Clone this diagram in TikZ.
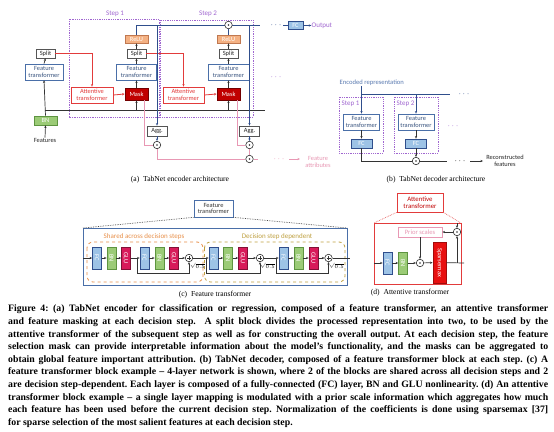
\documentclass[tikz,border=0pt]{standalone}
\usepackage{fontspec}
\setmainfont{Liberation Serif}
\newfontfamily\dfont{Carlito}
\usetikzlibrary{arrows.meta,calc}
\definecolor{stepc}{HTML}{A066D0}
\definecolor{bluec}{HTML}{4A6FA8}
\definecolor{dblue}{HTML}{2F4E8C}
\definecolor{redc}{HTML}{E23B3B}
\definecolor{maskc}{HTML}{C00000}
\definecolor{pinkc}{HTML}{E898B4}
\definecolor{reluf}{HTML}{F4B183}
\definecolor{reluline}{HTML}{C07850}
\definecolor{bnf}{HTML}{9BCB76}
\definecolor{bnb}{HTML}{5E9440}
\definecolor{fcf}{HTML}{9DC3E6}
\definecolor{gluf}{HTML}{D81B5A}
\definecolor{orc}{HTML}{E8904A}
\definecolor{olc}{HTML}{BFA040}
\definecolor{spc}{HTML}{E81010}
\definecolor{grayb}{HTML}{555555}
\definecolor{encc}{HTML}{5A7AB0}
\frenchspacing
\tikzset{
 bx/.style={draw, inner sep=0pt, align=center, line width=0.7pt, font=\dfont\fontsize{6.4}{6.9}\selectfont},
 ftbox/.style={bx, draw=bluec, text=bluec!75!black, fill=white},
 spbox/.style={bx, draw=grayb, text=black!85, fill=white, minimum width=19, minimum height=9},
 atbox/.style={bx, draw=redc, text=redc, fill=white},
 maskbox/.style={bx, draw=maskc!60!black, fill=maskc, text=white, minimum width=23, minimum height=12},
 relubox/.style={bx, draw=reluline, fill=reluf, text=white, minimum width=23, minimum height=8},
 bnbox/.style={bx, draw=bnb, fill=bnf, text=white},
 fcbox/.style={bx, draw=dblue, fill=fcf, text=white},
 glubox/.style={bx, draw=gluf!60!black, fill=gluf, text=white},
 vblk/.style={rotate=-90, minimum width=22, minimum height=9},
 sumdot/.style={circle, draw=black!80, fill=white, minimum size=7.5pt, inner sep=0pt, line width=0.6pt,
   path picture={\fill[black!80] (path picture bounding box.center) circle (0.8pt);}},
 sumplus/.style={circle, draw=black!80, fill=white, minimum size=7.5pt, inner sep=0pt, line width=0.6pt,
   path picture={\draw[black!80, line width=0.5pt] ([xshift=-2pt]path picture bounding box.center) -- ([xshift=2pt]path picture bounding box.center) ([yshift=-2pt]path picture bounding box.center) -- ([yshift=2pt]path picture bounding box.center);}},
 stepbox/.style={draw=stepc, dash pattern=on 0.9pt off 0.9pt, line width=0.9pt},
 steplbl/.style={text=stepc, font=\dfont\fontsize{7}{7.5}\selectfont, inner sep=0pt},
 lbl/.style={inner sep=0pt, align=center, font=\dfont\fontsize{6.4}{7}\selectfont},
 arr/.style={-{Stealth[length=2.6pt,width=2.2pt]}},
 bl/.style={draw=black!80, line width=0.7pt},
 bluel/.style={draw=dblue, line width=0.8pt},
 redl/.style={draw=redc, line width=0.8pt},
 pinkl/.style={draw=pinkc, line width=0.8pt},
 subcap/.style={inner sep=0pt, font=\fontsize{7.6}{8}\selectfont},
 captxt/.style={inner sep=0pt, anchor=west, font=\bfseries\fontsize{9.8}{11}\selectfont},
 dotsnode/.style={inner sep=0pt, font=\bfseries\fontsize{9}{9}\selectfont},
}
\begin{document}
\begin{tikzpicture}[x=1pt,y=-1pt]
\useasboundingbox[fill=white] (0,0) rectangle (554,431);

% ================= (a) encoder =================
\draw[stepbox] (69,19) rectangle (159,117);
\draw[stepbox] (160,20) rectangle (253,117);
\node[steplbl] (s1l) at (115,14) {Step 1};
\node[steplbl] (s2l) at (208,14) {Step 2};

\node[ftbox, minimum width=38, minimum height=16] (ftL) at (44,72) {Feature\\transformer};
\node[spbox] (spL) at (45.5,53.5) {Split};
\node[bnbox, minimum width=23, minimum height=9] (bnE) at (45.5,120.5) {BN};
\node[lbl, text=black!85] (featE) at (45,140) {Features};

\node[atbox, minimum width=42, minimum height=16] (at1) at (92,95) {Attentive\\transformer};
\node[maskbox] (mask1) at (136.5,94) {Mask};
\node[ftbox, minimum width=40, minimum height=16] (ft1) at (136.5,72) {Feature\\transformer};
\node[spbox] (sp1) at (136.5,53.5) {Split};
\node[relubox] (relu1) at (136.5,39) {ReLU};

\node[atbox, minimum width=41, minimum height=16] (at2) at (183.5,95) {Attentive\\transformer};
\node[maskbox] (mask2) at (228.5,94) {Mask};
\node[ftbox, minimum width=41, minimum height=16] (ft2) at (228.5,72) {Feature\\transformer};
\node[spbox] (sp2) at (228.5,53.5) {Split};
\node[relubox] (relu2) at (228.5,39) {ReLU};

\node[spbox, minimum width=20, minimum height=10] (agg1) at (157,131) {Agg.};
\node[spbox, minimum width=20, minimum height=10] (agg2) at (249.5,131) {Agg.};

\coordinate (bl0) at (45,110);
\coordinate (bl1) at (265,110);
\coordinate (tl0) at (157,25);
\coordinate (tl1) at (260,25);
\coordinate (tl2) at (249.5,25);

% black lines
\draw[bl] (bl0) -- (bl1);
\draw[bl,arr] (featE.north) -- (bnE.south);
\draw[bl,arr] (bnE.north) -- (ftL.south);
\draw[bl,arr] (ftL.north) -- (spL.south);
\draw[bl,arr] (mask1.south |- bl0) -- (mask1.south);
\draw[bl,arr] (mask1.north) -- (ft1.south);
\draw[bl,arr] (ft1.north) -- (sp1.south);
\draw[bl,arr] (sp1.north) -- (relu1.south);
\draw[bl,arr] (mask2.south |- bl0) -- (mask2.south);
\draw[bl,arr] (mask2.north) -- (ft2.south);
\draw[bl,arr] (ft2.north) -- (sp2.south);
\draw[bl,arr] (sp2.north) -- (relu2.south);

% red lines
\draw[redl,arr] (spL.east) -| (at1.north);
\draw[redl,arr] (sp1.east) -| (at2.north);
\draw[redl,arr] (at1.east) -- (mask1.west);
\draw[redl,arr] (at2.east) -- (mask2.west);

% blue lines
\draw[bluel] (relu1.north) |- (tl1);
\draw[bluel,arr] (tl0) -- (agg1.north);
\draw[bluel,arr] (tl2) -- (agg2.north);
\node[sumdot] (st) at (228.5,25) {};
\draw[bluel] (relu2.north) -- (st.south);
\node[dotsnode, text=dblue] (bdots) at (276,25) {$\cdots$};
\node[fcbox, minimum width=15, minimum height=8] (fcO) at (295.5,25.5) {FC};
\draw[bluel] (fcO.west) -- ++(-5,0);
\draw[bluel,arr] (fcO.east) -- ++(8,0);
\node[lbl, anchor=west, text=stepc, font=\dfont\fontsize{7}{7.5}\selectfont] (outT) at (311.5,25.5) {Output};
\node[dotsnode, text=stepc] (pdots1) at (276,77) {$\cdots$};

% sums & pink lines
\node[sumdot] (c1) at (157,145) {};
\node[sumdot] (c2) at (249.5,145) {};
\node[sumdot] (c3) at (249.5,159) {};
\draw[bluel,arr] (agg1.south) -- (c1.north);
\draw[bluel,arr] (agg2.south) -- (c2.north);
\draw[pinkl] ([xshift=-3.5pt]mask1.south east) |- (c1.west);
\draw[pinkl] ([xshift=-3pt]mask2.south east) |- (c2.west);
\draw[pinkl] (c1.south) |- (c3.west);
\draw[pinkl] (c2.south) -- (c3.north);
\coordinate (pe) at (258,159);
\draw[pinkl] (c3.east) -- (pe);
\node[dotsnode, text=pinkc] (pkdots) at (279,159) {$\cdots$};
\coordinate (pa0) at (289,159);
\coordinate (pa1) at (300,159);
\draw[pinkl,arr] (pa0) -- (pa1);
\node[lbl, text=pinkc] (featA) at (318,161.5) {Feature\\attributes};

\node[subcap] (capa) at (180,180) {(a)\ \ TabNet encoder architecture};

% ================= (b) decoder =================
\node[lbl, anchor=west, text=encc, font=\dfont\fontsize{6.6}{7}\selectfont] (encT) at (339.5,82.5) {Encoded representation};
\draw[stepbox] (339,97) rectangle (383,153);
\draw[stepbox] (394,97) rectangle (438,153);
\node[steplbl, anchor=west] (ds1) at (341.5,103.5) {Step 1};
\node[steplbl, anchor=west] (ds2) at (396.5,103.5) {Step 2};
\node[ftbox, minimum width=36, minimum height=16] (dft1) at (361.5,122) {Feature\\transformer};
\node[ftbox, minimum width=36, minimum height=16] (dft2) at (416,122) {Feature\\transformer};
\node[fcbox, minimum width=21, minimum height=9] (dfc1) at (361.5,143.5) {FC};
\node[fcbox, minimum width=21, minimum height=9] (dfc2) at (416,143.5) {FC};
\coordinate (e0) at (361.5,86);
\coordinate (e1) at (361.5,94);
\coordinate (e2) at (450,94);
\coordinate (e3) at (416,94);
\draw[bluel,arr] (e0) -- (dft1.north);
\draw[bluel] (e1) -- (e2);
\draw[bluel,arr] (e3) -- (dft2.north);
\node[dotsnode, text=dblue] (ddots1) at (464,94) {$\cdots$};
\node[dotsnode, text=stepc] (ddots2) at (453,126) {$\cdots$};
\draw[bl,arr] (dft1.south) -- (dfc1.north);
\draw[bl,arr] (dft2.south) -- (dfc2.north);
\node[sumdot] (dc) at (416,161) {};
\draw[bl] (dfc1.south) |- (dc.west);
\draw[bl,arr] (dfc2.south) -- (dc.north);
\coordinate (d0) at (447,161);
\draw[bl] (dc.east) -- (d0);
\node[dotsnode, text=black] (ddots3) at (460,161) {$\cdots$};
\coordinate (d1) at (470,161);
\coordinate (d2) at (483,161);
\draw[bl,arr] (d1) -- (d2);
\node[lbl, text=black!85] (recT) at (505,160.5) {Reconstructed\\features};

\node[subcap] (capb) at (436,180) {(b)\ \ TabNet decoder architecture};

% ================= (c) feature transformer =================
\node[ftbox, text=black!80, minimum width=39, minimum height=17] (ftTop) at (213.5,208.5) {Feature\\transformer};
\coordinate (bbTL) at (83,228);
\coordinate (bbTR) at (347,228);
\coordinate (bbBR) at (347,285);
\draw[bluec, line width=0.9pt] (bbTL) rectangle (bbBR);
\draw[black!70, densely dotted, line width=0.7pt] (ftTop.south west) -- (bbTL);
\draw[black!70, densely dotted, line width=0.7pt] (ftTop.south east) -- (bbTR);
\draw[orc, dashed, rounded corners=6pt, line width=0.8pt] (87,242) rectangle (203,282);
\draw[olc, dashed, rounded corners=6pt, line width=0.8pt] (204.5,242) rectangle (345,282);
\node[lbl, text=orc, font=\dfont\fontsize{7}{7.5}\selectfont] (shT) at (144,236.5) {Shared across decision steps};
\node[lbl, text=olc, font=\dfont\fontsize{7}{7.5}\selectfont] (dsT) at (277,236.5) {Decision step dependent};

\node[fcbox, vblk] (fcA) at (97,258) {FC};
\node[bnbox, vblk] (bnA) at (111.5,258) {BN};
\node[glubox, vblk] (gluA) at (126,258) {GLU};
\node[fcbox, vblk] (fcB) at (144.5,258) {FC};
\node[bnbox, vblk] (bnB) at (159.5,258) {BN};
\node[glubox, vblk] (gluB) at (174,258) {GLU};
\node[sumplus] (sA) at (189,258) {};
\node[fcbox, vblk] (fcC) at (213.5,258) {FC};
\node[bnbox, vblk] (bnC) at (228,258) {BN};
\node[glubox, vblk] (gluC) at (243,258) {GLU};
\node[sumplus] (sB) at (260,258) {};
\node[fcbox, vblk] (fcD) at (283.5,258) {FC};
\node[bnbox, vblk] (bnD) at (298.5,258) {BN};
\node[glubox, vblk] (gluD) at (313.5,258) {GLU};
\node[sumplus] (sC) at (328.5,258) {};
\coordinate (mL) at (83,258);
\coordinate (mR) at (350,258);
\draw[bl,arr] (mL) -- (fcA);
\draw[bl,arr] (fcA) -- (bnA);
\draw[bl,arr] (bnA) -- (gluA);
\draw[bl,arr] (gluA) -- (fcB);
\draw[bl,arr] (fcB) -- (bnB);
\draw[bl,arr] (bnB) -- (gluB);
\draw[bl,arr] (gluB) -- (sA);
\draw[bl,arr] (sA) -- (fcC);
\draw[bl,arr] (fcC) -- (bnC);
\draw[bl,arr] (bnC) -- (gluC);
\draw[bl,arr] (gluC) -- (sB);
\draw[bl,arr] (sB) -- (fcD);
\draw[bl,arr] (fcD) -- (bnD);
\draw[bl,arr] (bnD) -- (gluD);
\draw[bl,arr] (gluD) -- (sC);
\draw[bl] (sC) -- (mR);
\coordinate (lA) at (137,258);
\coordinate (lB) at (206.5,258);
\coordinate (lC) at (276,258);
\draw[bl,arr] (lA) -- ++(0,15) -| (sA.south);
\draw[bl,arr] (lB) -- ++(0,15) -| (sB.south);
\draw[bl,arr] (lC) -- ++(0,15) -| (sC.south);
\node[inner sep=0pt, font=\fontsize{5.5}{5.5}\selectfont] (q1) at (197.5,266) {$\sqrt{0.5}$};
\node[inner sep=0pt, font=\fontsize{5.5}{5.5}\selectfont] (q2) at (267.5,266) {$\sqrt{0.5}$};
\node[inner sep=0pt, font=\fontsize{5.5}{5.5}\selectfont] (q3) at (336.5,266) {$\sqrt{0.5}$};

\node[subcap] (capc) at (215,295) {(c)\ \ Feature transformer};

% ================= (d) attentive transformer =================
\node[atbox, text=maskc, minimum width=46, minimum height=19, font=\dfont\fontsize{6.8}{7.4}\selectfont] (atTop) at (420,202.5) {Attentive\\transformer};
\coordinate (abTL) at (374,223);
\coordinate (abTR) at (461,223);
\coordinate (abBR) at (461,284);
\draw[redc, line width=0.9pt] (abTL) rectangle (abBR);
\draw[redc!80, densely dotted, line width=0.7pt] (atTop.south west) -- (abTL);
\draw[redc!80, densely dotted, line width=0.7pt] (atTop.south east) -- (abTR);
\node[bx, draw=pinkc, text=pinkc, minimum width=44, minimum height=10, font=\dfont\fontsize{6.6}{7}\selectfont] (prior) at (420,232) {Prior scales};
\node[sumdot] (cp) at (457,232) {};
\node[fcbox, vblk] (fcE) at (387.5,263) {FC};
\node[bnbox, vblk] (bnE2) at (403,263) {BN};
\node[sumdot] (cm) at (420,263) {};
\node[bx, draw=spc!70!black, fill=spc, text=white, rotate=-90, minimum width=41, minimum height=13, font=\dfont\fontsize{6.6}{7}\selectfont] (spm) at (439.5,262.5) {Sparsemax};
\coordinate (aL) at (374,263);
\coordinate (aR) at (464,263);
\coordinate (aB) at (457,263);
\coordinate (aT) at (457,223);
\draw[bl,arr] (aL) -- (fcE);
\draw[bl,arr] (fcE) -- (bnE2);
\draw[bl,arr] (bnE2) -- (cm);
\draw[bl,arr] (cm) -- (spm);
\draw[bl] (spm) -- (aR);
\draw[bl,arr] (aB) -- (cp);
\draw[bl,arr] (aT) -- (cp);
\draw[bl,arr] (cp) -- (prior);
\draw[bl,arr] (prior) -- (cm);

\node[subcap] (capd) at (410,293) {(d)\ \ Attentive transformer};

% ================= caption =================
\node[captxt] (cap1) at (8,309.5) {\makebox[540pt][s]{Figure 4: (a) TabNet encoder for classification or regression, composed of a feature transformer, an attentive transformer}};
\node[captxt] (cap2) at (8,322.1) {\makebox[540pt][s]{and feature masking at each decision step.\ \ A split block divides the processed representation into two, to be used by the}};
\node[captxt] (cap3) at (8,334.7) {\makebox[540pt][s]{attentive transformer of the subsequent step as well as for constructing the overall output. At each decision step, the feature}};
\node[captxt] (cap4) at (8,347.3) {\makebox[540pt][s]{selection mask can provide interpretable information about the model's functionality, and the masks can be aggregated to}};
\node[captxt] (cap5) at (8,359.9) {\makebox[540pt][s]{obtain global feature important attribution. (b) TabNet decoder, composed of a feature transformer block at each step. (c) A}};
\node[captxt] (cap6) at (8,372.5) {\makebox[540pt][s]{feature transformer block example -- 4-layer network is shown, where 2 of the blocks are shared across all decision steps and 2}};
\node[captxt] (cap7) at (8,385.1) {\makebox[540pt][s]{are decision step-dependent. Each layer is composed of a fully-connected (FC) layer, BN and GLU nonlinearity. (d) An attentive}};
\node[captxt] (cap8) at (8,397.7) {\makebox[540pt][s]{transformer block example -- a single layer mapping is modulated with a prior scale information which aggregates how much}};
\node[captxt] (cap9) at (8,410.3) {\makebox[540pt][s]{each feature has been used before the current decision step. Normalization of the coefficients is done using sparsemax [37]}};
\node[captxt] (cap10) at (8,422.9) {for sparse selection of the most salient features at each decision step.};
\end{tikzpicture}
\end{document}
